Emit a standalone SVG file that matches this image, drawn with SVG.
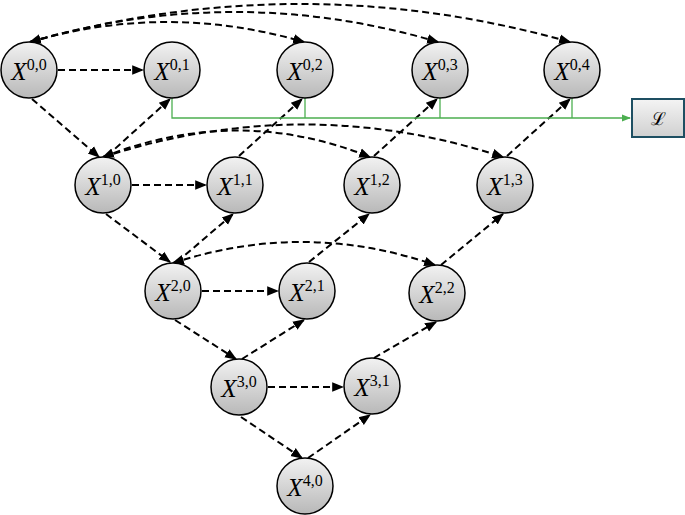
<svg xmlns="http://www.w3.org/2000/svg" width="685" height="515" viewBox="0 0 685 515">
<defs>
<linearGradient id="g" x1="0" y1="0" x2="0" y2="1"><stop offset="0" stop-color="#f2f2f2"/><stop offset="1" stop-color="#b8b8b8"/></linearGradient>
<linearGradient id="gb" x1="0" y1="0" x2="0" y2="1"><stop offset="0" stop-color="#f4f4f4"/><stop offset="1" stop-color="#d0d0d0"/></linearGradient>
<marker id="a" viewBox="0 0 10 10" refX="9" refY="5" markerWidth="6" markerHeight="6" orient="auto-start-reverse"><path d="M0,1 L10,5 L0,9 z" fill="#000"/></marker>
<marker id="ag" viewBox="0 0 10 10" refX="9" refY="5" markerWidth="7" markerHeight="7" orient="auto"><path d="M0,1 L10,5 L0,9 z" fill="#4caf50"/></marker>
</defs>
<style>
.n circle{fill:url(#g);stroke:#000;stroke-width:1.5}
.n text{font-family:"Liberation Serif",serif;font-size:25px;font-style:italic;text-anchor:middle}
.n tspan{font-style:normal;font-size:16px}
#edges path{fill:none;stroke:#000;stroke-width:2;stroke-dasharray:7,4;marker-end:url(#a)}
#green path{fill:none;stroke:#4caf50;stroke-width:1.3}
</style>
<g id="edges">
<path d="M58,70 L143,70"/>
<path d="M32,99 L99,157"/>
<path d="M107,156 L170,99"/>
<path d="M132,185 L206,185"/>
<path d="M239,156 L302,99"/>
<path d="M374,156 L437,99"/>
<path d="M507,156 L570,99"/>
<path d="M106,214 L170,262"/>
<path d="M177,262 L233,214"/>
<path d="M309,262 L369,214"/>
<path d="M441,265 L503,214"/>
<path d="M202,291 L278,291"/>
<path d="M175,320 L236,359"/>
<path d="M242,359 L304,320"/>
<path d="M374,358 L436,322"/>
<path d="M268,387 L343,387"/>
<path d="M241,417 L302,458"/>
<path d="M308,458 L370,415"/>
<path d="M30,42 Q167,2 304,42" marker-start="url(#a)"/>
<path d="M30,42 Q235,-18 438,42"/>
<path d="M30,42 Q300,-34 570,42"/>
<path d="M103,157 Q238,104 370,157" marker-start="url(#a)"/>
<path d="M103,157 Q305,92 503,157"/>
<path d="M173,263 Q305,220 435,265" marker-start="url(#a)"/>
</g>
<g id="green">
<path d="M172,98 L172,118 L630,118" marker-end="url(#ag)"/>
<path d="M305,98 L305,118"/>
<path d="M440,98 L440,118"/>
<path d="M572,98 L572,118"/>
</g>
<g id="L"><rect x="632" y="99" width="52" height="38" fill="url(#gb)" stroke="#1e4f62" stroke-width="2"/><text x="658" y="125" font-family="DejaVu Serif,serif" font-size="18" text-anchor="middle">ℒ</text></g>
<g id="X00" class="n"><circle cx="29" cy="70" r="28"/><text x="29" y="80">X<tspan dy="-10">0,0</tspan></text></g>
<g id="X01" class="n"><circle cx="172" cy="70" r="28"/><text x="172" y="80">X<tspan dy="-10">0,1</tspan></text></g>
<g id="X02" class="n"><circle cx="305" cy="70" r="28"/><text x="305" y="80">X<tspan dy="-10">0,2</tspan></text></g>
<g id="X03" class="n"><circle cx="440" cy="70" r="28"/><text x="440" y="80">X<tspan dy="-10">0,3</tspan></text></g>
<g id="X04" class="n"><circle cx="572" cy="70" r="28"/><text x="572" y="80">X<tspan dy="-10">0,4</tspan></text></g>
<g id="X10" class="n"><circle cx="103" cy="185" r="28"/><text x="103" y="195">X<tspan dy="-10">1,0</tspan></text></g>
<g id="X11" class="n"><circle cx="235" cy="185" r="28"/><text x="235" y="195">X<tspan dy="-10">1,1</tspan></text></g>
<g id="X12" class="n"><circle cx="372" cy="185" r="28"/><text x="372" y="195">X<tspan dy="-10">1,2</tspan></text></g>
<g id="X13" class="n"><circle cx="505" cy="185" r="28"/><text x="505" y="195">X<tspan dy="-10">1,3</tspan></text></g>
<g id="X20" class="n"><circle cx="173" cy="291" r="28"/><text x="173" y="301">X<tspan dy="-10">2,0</tspan></text></g>
<g id="X21" class="n"><circle cx="307" cy="291" r="28"/><text x="307" y="301">X<tspan dy="-10">2,1</tspan></text></g>
<g id="X22" class="n"><circle cx="437" cy="293" r="28"/><text x="437" y="303">X<tspan dy="-10">2,2</tspan></text></g>
<g id="X30" class="n"><circle cx="239" cy="387" r="28"/><text x="239" y="397">X<tspan dy="-10">3,0</tspan></text></g>
<g id="X31" class="n"><circle cx="372" cy="386" r="28"/><text x="372" y="396">X<tspan dy="-10">3,1</tspan></text></g>
<g id="X40" class="n"><circle cx="305" cy="486" r="28"/><text x="305" y="496">X<tspan dy="-10">4,0</tspan></text></g>
</svg>
